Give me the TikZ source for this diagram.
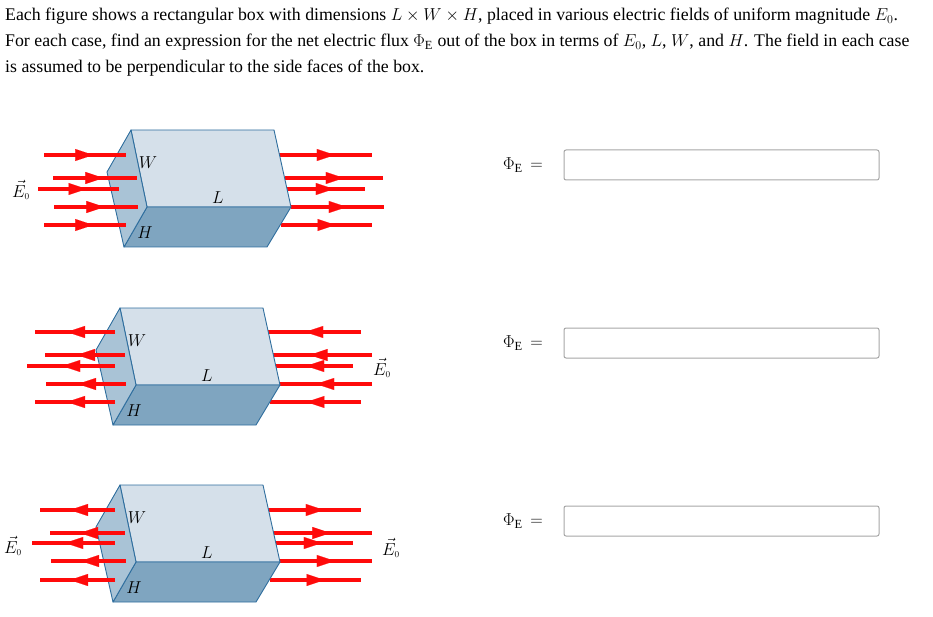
\documentclass[tikz,border=0pt]{standalone}
\usepackage{fontspec}
\setmainfont{Liberation Serif}
\usetikzlibrary{arrows.meta,decorations.markings}
\definecolor{topc}{HTML}{D5E0EA}
\definecolor{leftc}{HTML}{A9C3D6}
\definecolor{botc}{HTML}{7FA5C0}
\definecolor{edgec}{HTML}{2F6E9E}
\definecolor{fred}{HTML}{FF0A0A}
\tikzset{
  field/.style={fred,line width=3.8pt,postaction={decorate},
    decoration={markings,mark=at position 0.6 with {\arrow[fred,line width=0.1pt]{Triangle[length=18pt,width=12pt]}}}},
  face/.style={draw=edgec,line width=0.9pt,line join=round},
  lbl/.style={font=\fontsize{18}{20}\selectfont\itshape,inner sep=0pt},
  txt/.style={font=\fontsize{17.8}{20}\selectfont,anchor=base west,inner sep=0pt},
  ansbox/.style={draw=gray!70,line width=1pt,rounded corners=2pt,fill=white},
  pics/cuboid/.style={code={
    \fill[topc,face] (0,0) -- (143,0) -- (160,77) -- (16,77) -- cycle;
    \fill[botc,face] (16,77) -- (160,77) -- (136,117) -- (-7,117) -- cycle;
    \fill[leftc,face] (0,0) -- (-24,42) -- (-7,117) -- (16,77) -- cycle;
    \node[lbl] at (17,33) {$W$};
    \node[lbl] at (87,68) {$L$};
    \node[lbl] at (14,103) {$H$};
  }}
}
\begin{document}
\begin{tikzpicture}[x=1pt,y=-1pt]
\useasboundingbox (0,0) rectangle (933,617);
\node[txt] (t1) at (5,21) {Each figure shows a rectangular box with dimensions $L\times W\times H$, placed in various electric fields of uniform magnitude $E_0$.};
\node[txt] (t2) at (5,47) {For each case, find an expression for the net electric flux $\Phi_{\mathrm{E}}$ out of the box in terms of $E_0$, $L$, $W$, and $H$. The field in each case};
\node[txt] (t3) at (5,73) {is assumed to be perpendicular to the side faces of the box.};

% ---- figure 1
\draw[field] (279,155) -- (372,155);
\draw[field] (285,178) -- (383,178);
\draw[field] (287,189) -- (365,189);
\draw[field] (291,207) -- (384,207);
\draw[field] (281,225) -- (372,225);
\pic at (131,130) {cuboid};
\draw[field] (44,155) -- (126,155);
\draw[field] (53,178) -- (137,178);
\draw[field] (38,189) -- (119,189);
\draw[field] (54,207) -- (138,207);
\draw[field] (44,225) -- (126,225);
\node[lbl] (e1) at (21,190) {$\vec{E}_{\scriptscriptstyle 0}$};

% ---- figure 2
\draw[field] (361,332) -- (268,332);
\draw[field] (372,355) -- (268,355);
\draw[field] (353,366) -- (275,366);
\draw[field] (372,384) -- (279,384);
\draw[field] (361,402) -- (270,402);
\pic at (120,308) {cuboid};
\draw[field] (115,332) -- (35,332);
\draw[field] (125,355) -- (45,355);
\draw[field] (115,366) -- (27,366);
\draw[field] (126,384) -- (46,384);
\draw[field] (115,402) -- (35,402);
\node[lbl] (e2) at (382,368) {$\vec{E}_{\scriptscriptstyle 0}$};

% ---- figure 3
\draw[field] (268,510) -- (361,510);
\draw[field] (268,533) -- (372,533);
\draw[field] (275,543) -- (353,543);
\draw[field] (279,561) -- (372,561);
\draw[field] (270,580) -- (361,580);
\pic at (120,485) {cuboid};
\draw[field] (115,510) -- (40,510);
\draw[field] (125,533) -- (50,533);
\draw[field] (115,543) -- (32,543);
\draw[field] (126,561) -- (51,561);
\draw[field] (115,580) -- (40,580);
\node[lbl] (e3a) at (13,546) {$\vec{E}_{\scriptscriptstyle 0}$};
\node[lbl] (e3b) at (391,548) {$\vec{E}_{\scriptscriptstyle 0}$};

% ---- answers
\foreach \y/\n in {165/a,343/b,521/c}{
  \node[font=\fontsize{17.8}{20}\selectfont,inner sep=0pt] (phi\n) at (523,\y) {$\Phi_{\mathrm{E}}\,=$};
  \draw[ansbox] (564,\y-15) rectangle (879,\y+15);
}
\end{tikzpicture}
\end{document}
